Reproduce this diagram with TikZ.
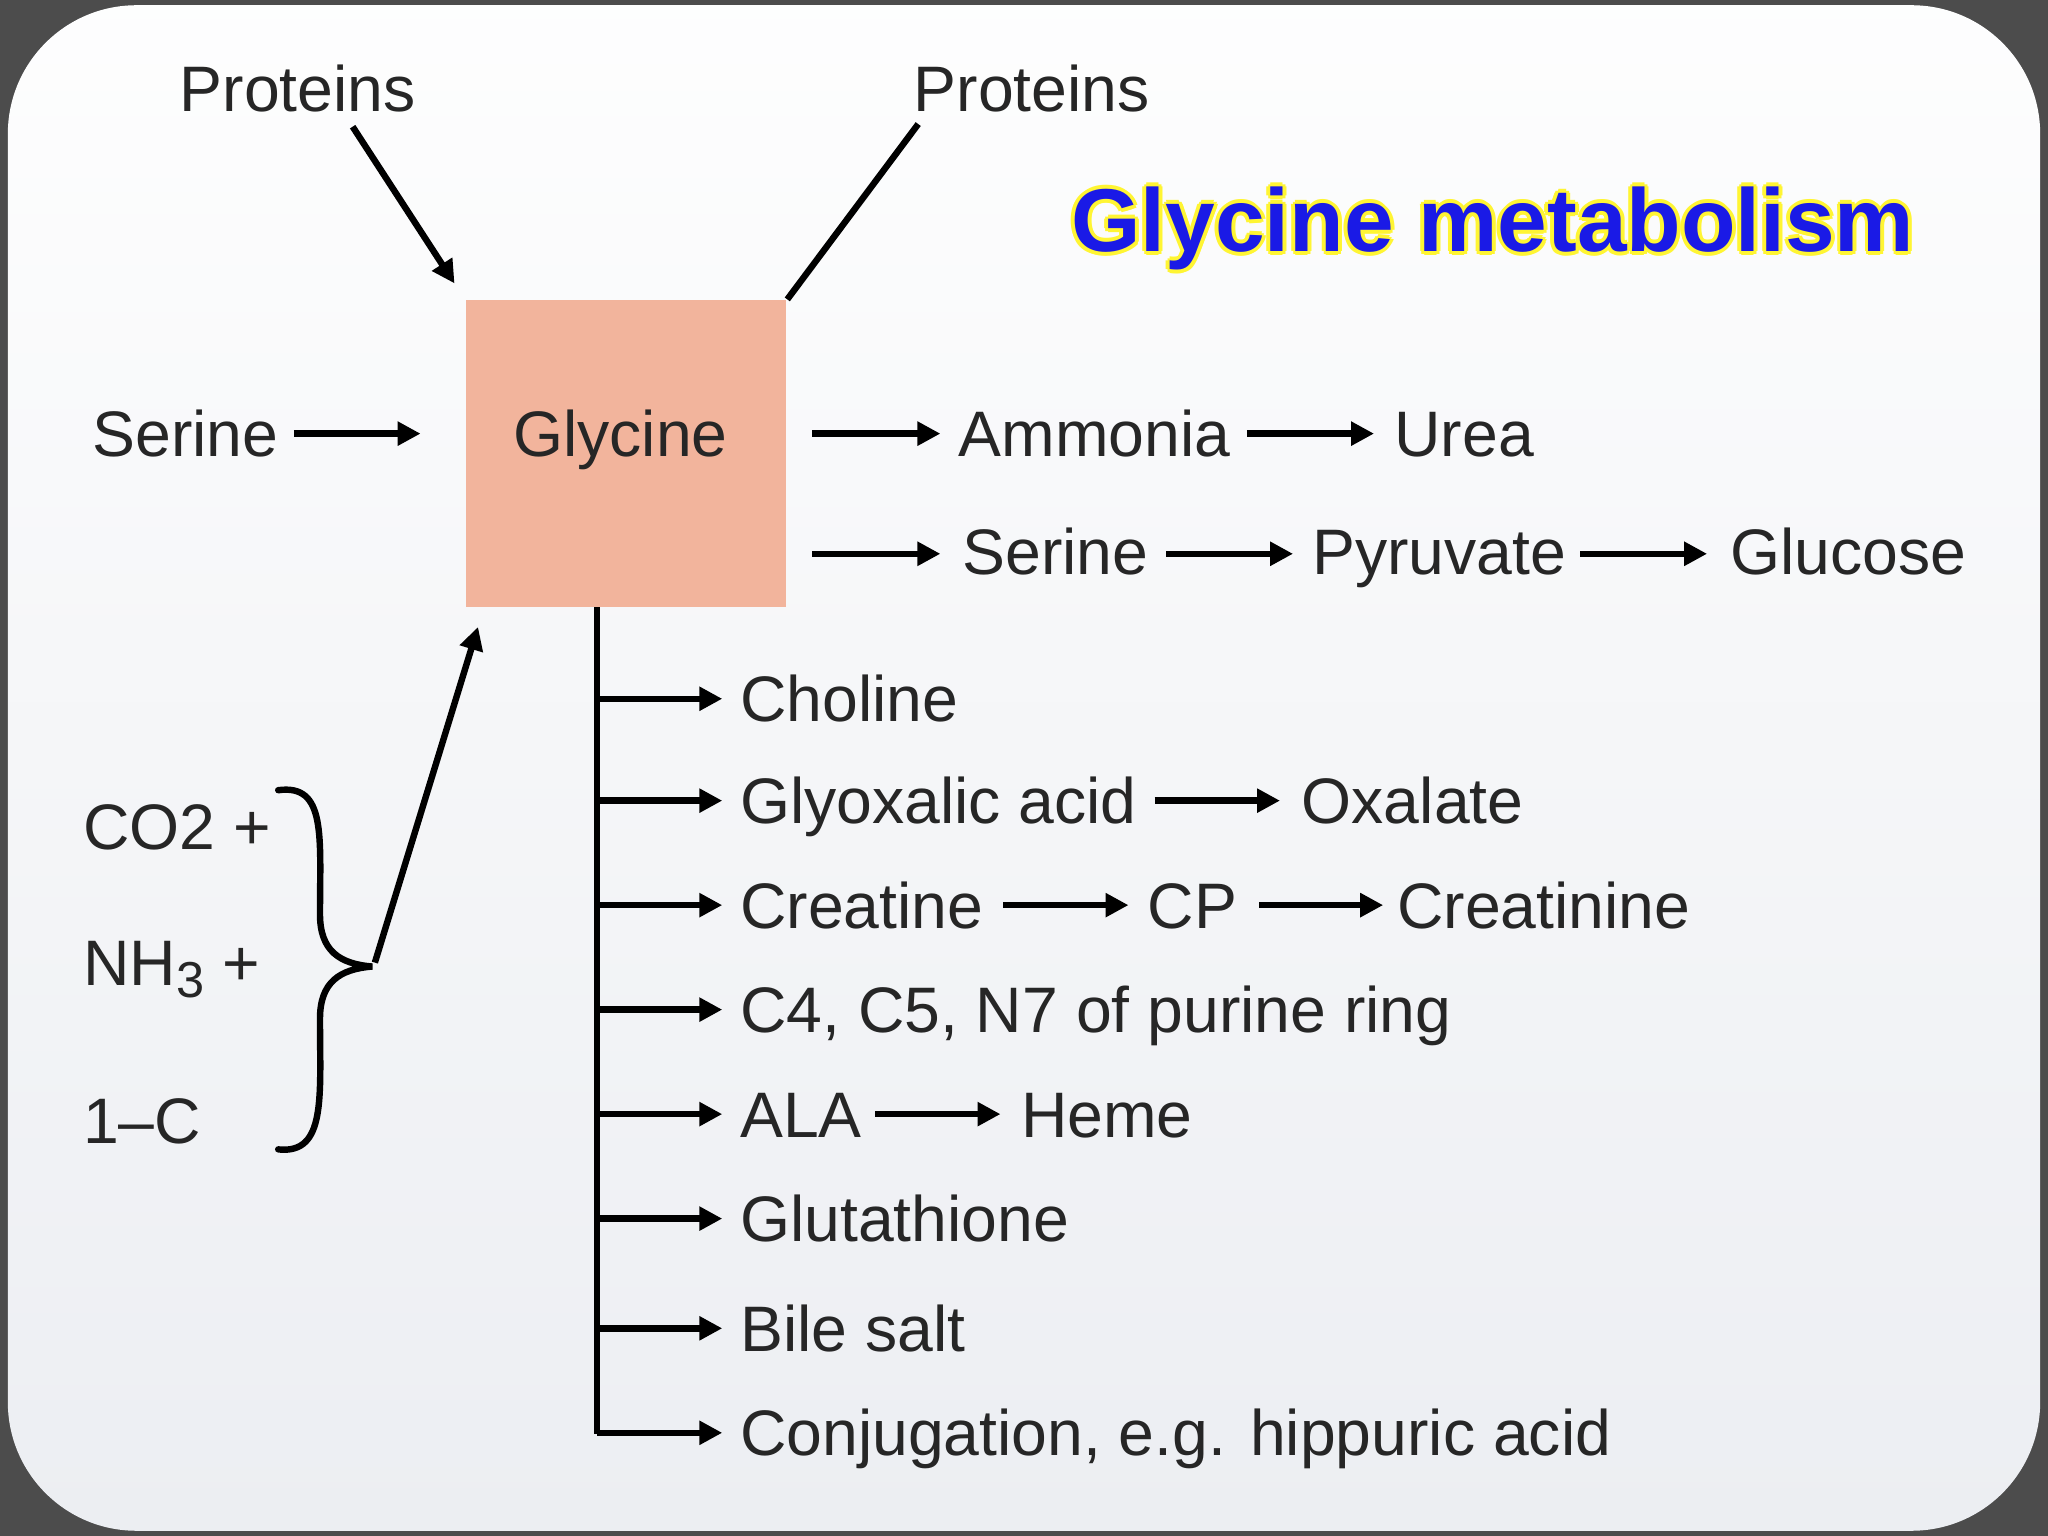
\documentclass[tikz,border=0pt]{standalone}
\usepackage{fontspec}
\usepackage{graphicx}
\setmainfont{Liberation Sans}
\usetikzlibrary{arrows.meta,decorations.pathreplacing}
\definecolor{boxfill}{HTML}{F2B49C}
\definecolor{bgc}{HTML}{ECEEF2}
\definecolor{ttl}{HTML}{1A1AE6}
\begin{document}
\begin{tikzpicture}[x=0.01cm,y=-0.01cm,
  lbl/.style={inner sep=0pt,font=\fontsize{14}{17}\selectfont,text=black!85,text height=10pt,text depth=0pt},
  la/.style={lbl,anchor=west},
  arr/.style={line width=1.4pt,-{Triangle[length=5pt,width=5pt]}},
  ln/.style={line width=1.4pt}]
\useasboundingbox (0,0) rectangle (1568,1176);
\fill[black!70] (0,0) rectangle (1568,1176);
\shade[rounded corners=28pt,top color=white!92!bgc,bottom color=bgc] (6,4) rectangle (1562,1172);
% title
\foreach \dx/\dy in {-3/0,3/0,0/-3,0/3,-2/-2,2/2,-2/2,2/-2}
  \node[inner sep=0pt,text=yellow!80] at (1143+\dx,175+\dy) {\resizebox{6.45cm}{!}{\bfseries Glycine metabolism}};
\node[inner sep=0pt,text=ttl] (title) at (1143,175) {\resizebox{6.45cm}{!}{\bfseries Glycine metabolism}};
% glycine
\node[fill=boxfill,minimum width=2.45cm,minimum height=2.35cm,inner sep=0pt] (gly) at (479.5,347.5) {};
\node[lbl] (glyt) at (475,332) {Glycine};
\node[lbl] (p1) at (228,68) {Proteins};
\node[lbl] (p2) at (790,68) {Proteins};
\coordinate (p1s) at (270,97); \coordinate (p1e) at (348,217);
\draw[arr] (p1s) -- (p1e);
\coordinate (p2s) at (703,95);
\draw[ln] (p2s) -- (gly.north east);
\node[lbl] (ser) at (142,332) {Serine};
\draw[arr] (225,332) -- (322,332);
\node[lbl] (amm) at (838,332) {Ammonia};
\node[lbl] (urea) at (1121,332) {Urea};
\draw[arr] (622,332) -- (720,332);
\draw[arr] (amm.east)+(12,0) -- (1052,332);
\node[lbl] (ser2) at (808,422) {Serine};
\node[lbl] (pyr) at (1102,422) {Pyruvate};
\node[lbl] (glu) at (1415,422) {Glucose};
\draw[arr] (622,424) -- (720,424);
\draw[arr] (893,424) -- (990,424);
\draw[arr] (1210,424) -- (1307,424);
% trunk
\coordinate (t0) at (457,465);
\draw[ln] (t0) -- (457,1097.7);
\foreach \y/\n/\t in {535/a/Choline,613/b/Glyoxalic acid,693/c/Creatine,773/d/{C4, C5, N7 of purine ring},853/e/ALA,933/f/Glutathione,1017/g/Bile salt,1097/h/{Conjugation, e.g. hippuric acid}}{
  \draw[arr] (457,\y) -- (553,\y);
  \node[la] (\n) at (566,\y) {\t};
}
\node[la] (ox) at (996,613) {Oxalate};
\draw[arr] (884,613) -- (980,613);
\node[la] (cp) at (878,693) {CP};
\draw[arr] (768,693) -- (864,693);
\node[la] (crn) at (1069,693) {Creatinine};
\draw[arr] (964,693) -- (1059,693);
\node[la] (heme) at (781,853) {Heme};
\draw[arr] (670,853) -- (766,853);
% left group
\node[la] (co2) at (63,633) {CO2 +};
\node[la] (nh3) at (63,737) {NH\raisebox{-0.35ex}{\fontsize{11}{12}\selectfont 3} +};
\node[la] (onec) at (63,858) {1–C};
\draw[ln,line cap=round] (213,605) .. controls (250,600) and (245,640) .. (245,700) .. controls (245,728) and (260,738) .. (285,740)
  .. controls (260,742) and (245,752) .. (245,780) .. controls (245,840) and (250,884) .. (213,880);
\coordinate (bt) at (287,737);
\draw[arr] (bt) -- (366,480);
\end{tikzpicture}
\end{document}
